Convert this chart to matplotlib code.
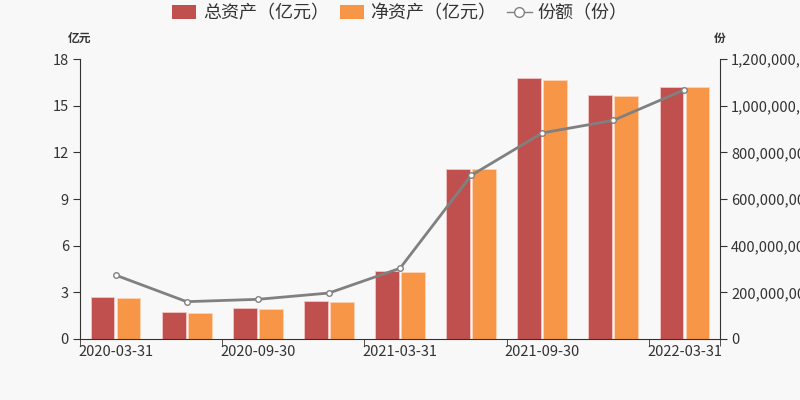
import numpy as np
import matplotlib
matplotlib.use("Agg")
import matplotlib.pyplot as plt
from matplotlib.ticker import FuncFormatter, FixedLocator
from matplotlib.lines import Line2D
from matplotlib.patches import Patch

plt.rcParams['font.family'] = ['Noto Sans CJK SC', 'DejaVu Sans']

# 数据
fechas = ['2020-03-31', '2020-06-30', '2020-09-30', '2020-12-31', '2021-03-31',
          '2021-06-30', '2021-09-30', '2021-12-31', '2022-03-31']
total_activos = [2.68, 1.71, 1.97, 2.44, 4.35, 10.93, 16.75, 15.66, 16.20]
activos_netos = [2.63, 1.68, 1.91, 2.40, 4.32, 10.90, 16.65, 15.62, 16.18]
participaciones = [274e6, 160e6, 170e6, 197e6, 303e6, 701e6, 883e6, 937e6, 1068e6]

rojo = '#c0504d'
naranja = '#f79646'
gris = '#808080'
fondo = '#f8f8f8'
texto = '#333333'

fig = plt.figure(figsize=(8, 4), dpi=100, facecolor=fondo)
ax = fig.add_axes([0.1, 0.1525, 0.8, 0.7])
ax.set_facecolor(fondo)
ax2 = ax.twinx()

x = np.arange(len(fechas))
ancho = 0.335
ax.bar(x - ancho / 2 - 0.015, total_activos, width=ancho, color=rojo,
       edgecolor='#f3c6c4', linewidth=0.6, zorder=2)
ax.bar(x + ancho / 2 + 0.015, activos_netos, width=ancho, color=naranja,
       edgecolor='#fcd5b5', linewidth=0.6, zorder=2)

ax2.plot(x, participaciones, color=gris, linewidth=2, marker='o', markersize=4,
         markerfacecolor='white', markeredgecolor=gris, markeredgewidth=1,
         zorder=3)

ax.set_xlim(-0.5, len(fechas) - 0.5)
ax.set_ylim(0, 18)
ax.set_yticks([0, 3, 6, 9, 12, 15, 18])
ax2.set_ylim(0, 1.2e9)
ax2.set_yticks(np.arange(0, 1.21e9, 2e8))
ax2.yaxis.set_major_formatter(FuncFormatter(lambda v, p: f'{int(v):,}'))

ax.set_xticks(x[::2])
ax.set_xticklabels([fechas[i] for i in range(0, len(fechas), 2)])
ax.xaxis.set_minor_locator(FixedLocator([-0.5, 1.5, 3.5, 5.5, 7.5, 8.5]))
ax.tick_params(axis='x', which='major', length=0, pad=4, labelsize=10.5, colors=texto)
ax.tick_params(axis='x', which='minor', length=5, color=texto)
ax.tick_params(axis='y', length=5, labelsize=10.5, colors=texto, pad=3)
ax2.tick_params(axis='y', length=5, labelsize=10.5, colors=texto, pad=3)

for a in (ax, ax2):
    a.spines['top'].set_visible(False)
    a.spines['left'].set_color(texto)
    a.spines['right'].set_color(texto)
    a.spines['bottom'].set_color(texto)
ax.spines['right'].set_visible(False)
ax2.spines['left'].set_visible(False)
ax2.spines['bottom'].set_visible(False)

fig.text(0.1, 0.905, '亿元', ha='center', va='center', fontsize=8.5,
         fontweight='bold', color=texto)
fig.text(0.9, 0.905, '份', ha='center', va='center', fontsize=8.5,
         fontweight='bold', color=texto)

# leyenda
h_rojo = Patch(facecolor=rojo, edgecolor='none')
h_naranja = Patch(facecolor=naranja, edgecolor='none')
h_linea = Line2D([], [], color=gris, linewidth=1, marker='o', markersize=7,
                 markerfacecolor='white', markeredgecolor=gris, markeredgewidth=1)
fig.legend([h_rojo, h_naranja, h_linea],
           ['总资产（亿元）', '净资产（亿元）', '份额（份）'],
           loc='center', bbox_to_anchor=(0.5, 0.967), ncol=3,
           frameon=False, fontsize=13, handlelength=1.35, handleheight=0.8,
           columnspacing=0.6, handletextpad=0.35, labelcolor=texto)

fig.savefig('out.png', dpi=100, facecolor=fondo)
